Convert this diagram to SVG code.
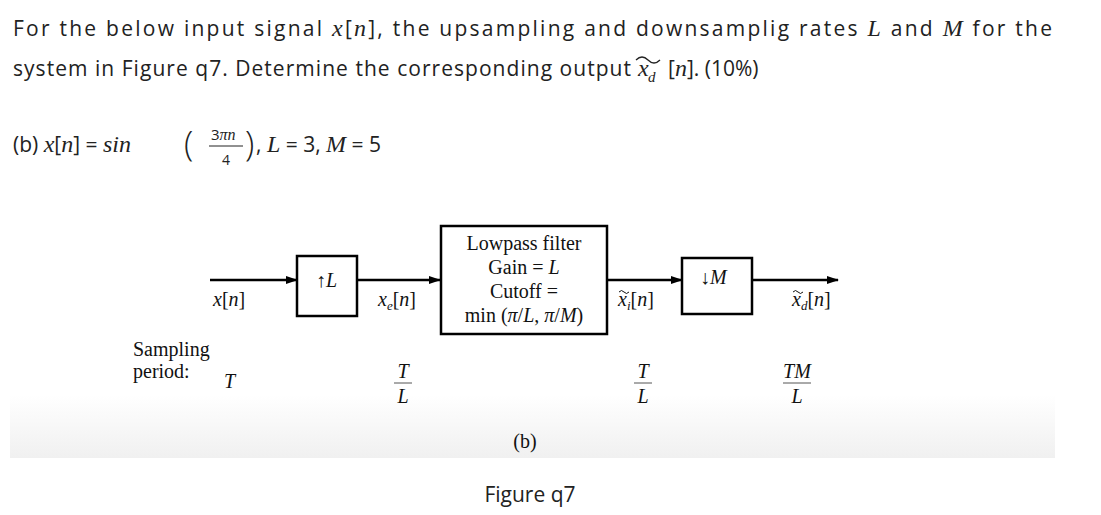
<svg xmlns="http://www.w3.org/2000/svg" width="1101" height="515" viewBox="0 0 1101 515">
<defs>
<marker id="ah" markerWidth="12" markerHeight="8" refX="11" refY="4" orient="auto" markerUnits="userSpaceOnUse"><path d="M0,0 L12,4 L0,8 Z" fill="#000"/></marker>
<linearGradient id="band" x1="0" y1="0" x2="0" y2="1"><stop offset="0" stop-color="#fff"/><stop offset="1" stop-color="#f0f0f0"/></linearGradient>
</defs>
<style>
.t{font-family:"Open Sans","Liberation Sans",sans-serif;font-size:21px;fill:#222}
.m{font-family:"Liberation Serif",serif;font-style:italic;font-size:24px;fill:#222}
.s{font-family:"Liberation Serif",serif;font-size:20px;fill:#111}
.si{font-family:"Liberation Serif",serif;font-style:italic;font-size:20px;fill:#111}
.box{fill:#fff;stroke:#000;stroke-width:2.5}
.c{stroke:#000;stroke-width:2.5;fill:none;marker-end:url(#ah)}
</style>
<rect width="1101" height="515" fill="#fff"/>
<rect x="10" y="395" width="1045" height="63" fill="url(#band)"/>
<text class="t" x="13" y="36" textLength="1039" lengthAdjust="spacing">For the below input signal <tspan class="m">x</tspan>[<tspan class="m">n</tspan>], the upsampling and downsamplig rates <tspan class="m">L</tspan> and <tspan class="m">M</tspan> for the</text>
<text class="t" x="13" y="76" textLength="618" lengthAdjust="spacing">system in Figure q7. Determine the corresponding output</text>
<text class="m" x="638" y="76">x</text><text class="m" x="648" y="82" style="font-size:15px">d</text>
<path d="M636,60 q6,-6 12,0 q6,6 12,0" stroke="#222" stroke-width="1.3" fill="none"/>
<text class="t" x="668" y="76">[<tspan class="m">n</tspan>]. (10%)</text>
<text class="t" x="13" y="152">(b) <tspan class="m">x</tspan>[<tspan class="m">n</tspan>] = <tspan class="m">sin</tspan></text>
<text class="t" x="184" y="156" style="font-size:34px;font-weight:300">(</text>
<text class="t" x="211" y="140" style="font-size:15px">3<tspan class="m" style="font-size:16px">πn</tspan></text>
<text class="t" x="222" y="165" style="font-size:14px">4</text>
<text class="t" x="245" y="156" style="font-size:34px;font-weight:300">)</text>
<text class="t" x="256" y="152">,  <tspan class="m">L</tspan> = 3, <tspan class="m">M</tspan> = 5</text>
<g id="connectors">
<line class="c" x1="210" y1="280" x2="297" y2="280"/>
<line class="c" x1="357" y1="280" x2="440" y2="280"/>
<line class="c" x1="606" y1="280" x2="682" y2="280"/>
<line class="c" x1="752" y1="280" x2="838" y2="280"/>
</g>
<g id="up"><rect class="box" x="297" y="256" width="60" height="60"/><text class="si" x="316" y="287"><tspan font-style="normal">↑</tspan>L</text></g>
<g id="lpf"><rect class="box" x="441" y="226" width="166" height="108"/>
<text class="s" x="524" y="250" text-anchor="middle">Lowpass filter</text>
<text class="s" x="524" y="274" text-anchor="middle">Gain = <tspan class="si">L</tspan></text>
<text class="s" x="524" y="298" text-anchor="middle">Cutoff =</text>
<text class="s" x="524" y="322" text-anchor="middle">min (<tspan class="si">π</tspan>/<tspan class="si">L</tspan>, <tspan class="si">π</tspan>/<tspan class="si">M</tspan>)</text></g>
<g id="down"><rect class="box" x="682" y="258" width="70" height="56"/><text class="si" x="700" y="284"><tspan font-style="normal">↓</tspan>M</text></g>
<g id="labels">
<text class="si" x="213" y="306">x<tspan font-style="normal">[</tspan>n<tspan font-style="normal">]</tspan></text>
<text class="si" x="378" y="306">x<tspan font-size="13" dy="4">e</tspan><tspan font-style="normal" dy="-4">[</tspan>n<tspan font-style="normal">]</tspan></text>
<text class="si" x="618" y="306">x<tspan font-size="13" dy="4">i</tspan><tspan font-style="normal" dy="-4">[</tspan>n<tspan font-style="normal">]</tspan></text>
<text class="si" x="792" y="306">x<tspan font-size="13" dy="4">d</tspan><tspan font-style="normal" dy="-4">[</tspan>n<tspan font-style="normal">]</tspan></text>
<path d="M619,292 q2.5,-3 5,0 q2.5,3 5,0" stroke="#111" stroke-width="1" fill="none"/>
<path d="M793,292 q2.5,-3 5,0 q2.5,3 5,0" stroke="#111" stroke-width="1" fill="none"/>
<text class="s" x="133" y="356">Sampling</text>
<text class="s" x="133" y="378">period:</text>
<text class="si" x="224" y="388">T</text>
<text class="si" x="403" y="378" text-anchor="middle">T</text><line x1="394" y1="383" x2="412" y2="383" stroke="#555"/><text class="si" x="403" y="403" text-anchor="middle">L</text>
<text class="si" x="643" y="378" text-anchor="middle">T</text><line x1="634" y1="383" x2="652" y2="383" stroke="#555"/><text class="si" x="643" y="403" text-anchor="middle">L</text>
<text class="si" x="797" y="378" text-anchor="middle">TM</text><line x1="783" y1="383" x2="811" y2="383" stroke="#555"/><text class="si" x="797" y="403" text-anchor="middle">L</text>
<text class="s" x="525" y="448" text-anchor="middle">(b)</text>
</g>
<line x1="209" y1="146" x2="243" y2="146" stroke="#222" stroke-width="1"/>
<text class="t" x="530" y="502" text-anchor="middle">Figure q7</text>
</svg>
